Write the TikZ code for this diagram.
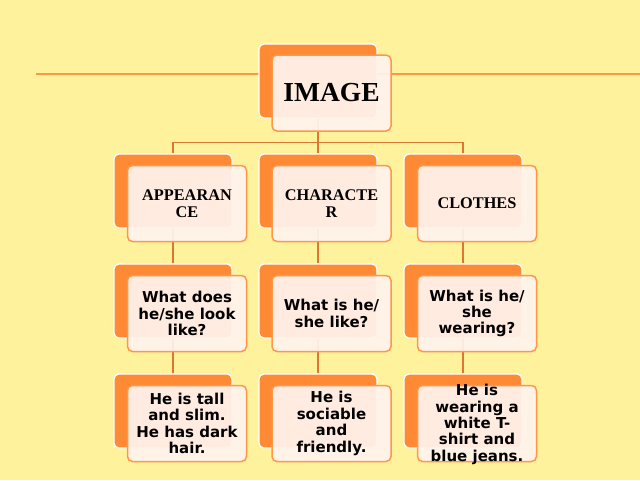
\documentclass[tikz,border=0pt]{standalone}
\usepackage{fontspec}
\newfontfamily\serifbold{Liberation Serif}[BoldFont={* Bold}]
\newfontfamily\sansbold{DejaVu Sans}
\definecolor{bgyellow}{RGB}{255,242,157}
\definecolor{backor}{RGB}{255,138,54}
\definecolor{frontfill}{RGB}{255,243,236}
\definecolor{frontline}{RGB}{255,150,72}
\definecolor{connline}{RGB}{222,118,52}
\definecolor{topline}{RGB}{255,150,70}
\tikzset{
  backbox/.style={draw=white, line width=1.2pt, fill=backor, rounded corners=5pt,
    minimum width=118pt, minimum height=74pt, inner sep=0pt},
  frontbox/.style={draw=frontline, line width=1.5pt, fill=frontfill, fill opacity=0.93, text opacity=1,
    rounded corners=5pt, minimum width=119pt, minimum height=76pt, inner sep=0pt, align=center, text=black},
  titletext/.style={font={\serifbold\bfseries\fontsize{27.5}{30}\selectfont}},
  headtext/.style={font={\serifbold\bfseries\fontsize{16.3}{17}\selectfont}},
  bodytext/.style={font={\sansbold\bfseries\fontsize{15}{16.4}\selectfont}},
  conn/.style={draw=connline, line width=1.3pt},
  hline/.style={draw=topline, line width=2pt}
}
\begin{document}
\begin{tikzpicture}[x=1pt,y=-1pt]
\fill[bgyellow] (0,0) rectangle (640,480);
\useasboundingbox (0,0) rectangle (640,480);
\coordinate (hl) at (36,74);
\coordinate (hr) at (640,74);
\draw[hline] (hl) -- (hr);
% back boxes
\node[backbox] (b0) at (318,81) {};
\node[backbox] (b1) at (173,191) {};
\node[backbox] (b2) at (318,191) {};
\node[backbox] (b3) at (463,191) {};
\node[backbox] (c1) at (173,301) {};
\node[backbox] (c2) at (318,301) {};
\node[backbox] (c3) at (463,301) {};
\node[backbox] (d1) at (173,411) {};
\node[backbox] (d2) at (318,411) {};
\node[backbox] (d3) at (463,411) {};
% connectors (behind front boxes)
\draw[conn] (b0.south) -- +(0,24) -| (b1.north);
\draw[conn] (b0.south) -- +(0,24) -| (b3.north);
\draw[conn] (b0.south) -- (b2.north);
\draw[conn] (b1.south) -- (c1.north);
\draw[conn] (b2.south) -- (c2.north);
\draw[conn] (b3.south) -- (c3.north);
\draw[conn] (c1.south) -- (d1.north);
\draw[conn] (c2.south) -- (d2.north);
\draw[conn] (c3.south) -- (d3.north);
% front boxes
\node[frontbox, titletext] (f0) at (331.5,93) {IMAGE};
\node[frontbox, headtext] (g1) at (187,203.5) {APPEARAN\\CE};
\node[frontbox, headtext] (g2) at (331.5,203.5) {CHARACTE\\R};
\node[frontbox, headtext] (g3) at (477,203.5) {CLOTHES};
\node[frontbox, bodytext] (h1) at (187,313.5) {What does\\he/she look\\like?};
\node[frontbox, bodytext] (h2) at (331.5,313.5) {What is he/\\she like?};
\node[frontbox, bodytext] (h3) at (477,313.5) {What is he/\\she\\wearing?};
\node[frontbox, bodytext] (k1) at (187,423.5) {He is tall\\and slim.\\He has dark\\hair.};
\node[frontbox, bodytext] (k2) at (331.5,423.5) {He is\\sociable\\and\\friendly.};
\node[frontbox] (k3) at (477,423.5) {};
\node[bodytext, align=center, inner sep=0pt] (k3t) at (477,424.5) {He is\\wearing a\\white T-\\shirt and\\blue jeans.};
\end{tikzpicture}
\end{document}
